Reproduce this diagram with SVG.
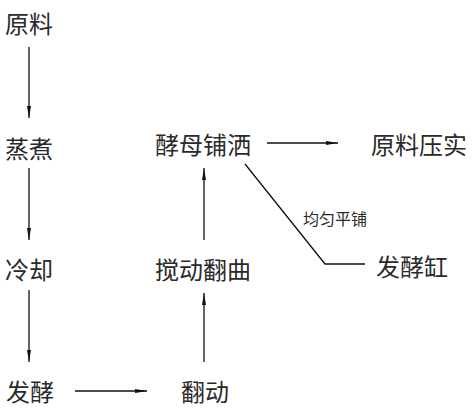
<svg xmlns="http://www.w3.org/2000/svg" width="474" height="409" viewBox="0 0 474 409">
<defs>
<style>
text{font-family:"Noto Sans CJK SC","Noto Sans CJK JP",sans-serif;font-size:24px;fill:#2a2a2a;dominant-baseline:central;font-weight:400}
.s{font-size:16px}
.l{stroke:#111;stroke-width:1.3;fill:none}
</style>
<marker id="a" viewBox="0 0 12 6" refX="12" refY="3" markerWidth="12" markerHeight="6" markerUnits="userSpaceOnUse" orient="auto">
<path d="M0,1 L12,3 L0,5 z" fill="#111"/>
</marker>
</defs>
<rect width="474" height="409" fill="#fff"/>
<g id="connectors">
<line class="l" x1="29" y1="47" x2="29" y2="118" marker-end="url(#a)"/>
<line class="l" x1="29" y1="168" x2="29" y2="240" marker-end="url(#a)"/>
<line class="l" x1="29" y1="290" x2="29" y2="362" marker-end="url(#a)"/>
<line class="l" x1="75" y1="391" x2="147" y2="391" marker-end="url(#a)"/>
<line class="l" x1="204" y1="362" x2="204" y2="293" marker-end="url(#a)"/>
<line class="l" x1="204" y1="240" x2="204" y2="168" marker-end="url(#a)"/>
<line class="l" x1="267" y1="143" x2="338" y2="143" marker-end="url(#a)"/>
<polyline class="l" points="245,164 325,264 365,264"/>
</g>
<g id="n1"><text x="5" y="22">原料</text></g>
<g id="n2"><text x="5" y="147">蒸煮</text></g>
<g id="n3"><text x="5" y="268">冷却</text></g>
<g id="n4"><text x="6" y="390">发酵</text></g>
<g id="n5"><text x="181" y="390">翻动</text></g>
<g id="n6"><text x="155" y="268">搅动翻曲</text></g>
<g id="n7"><text x="155" y="143">酵母铺洒</text></g>
<g id="n8"><text x="371" y="143">原料压实</text></g>
<g id="n9"><text x="376" y="265">发酵缸</text></g>
<g id="label"><text class="s" x="303" y="218">均匀平铺</text></g>
</svg>
